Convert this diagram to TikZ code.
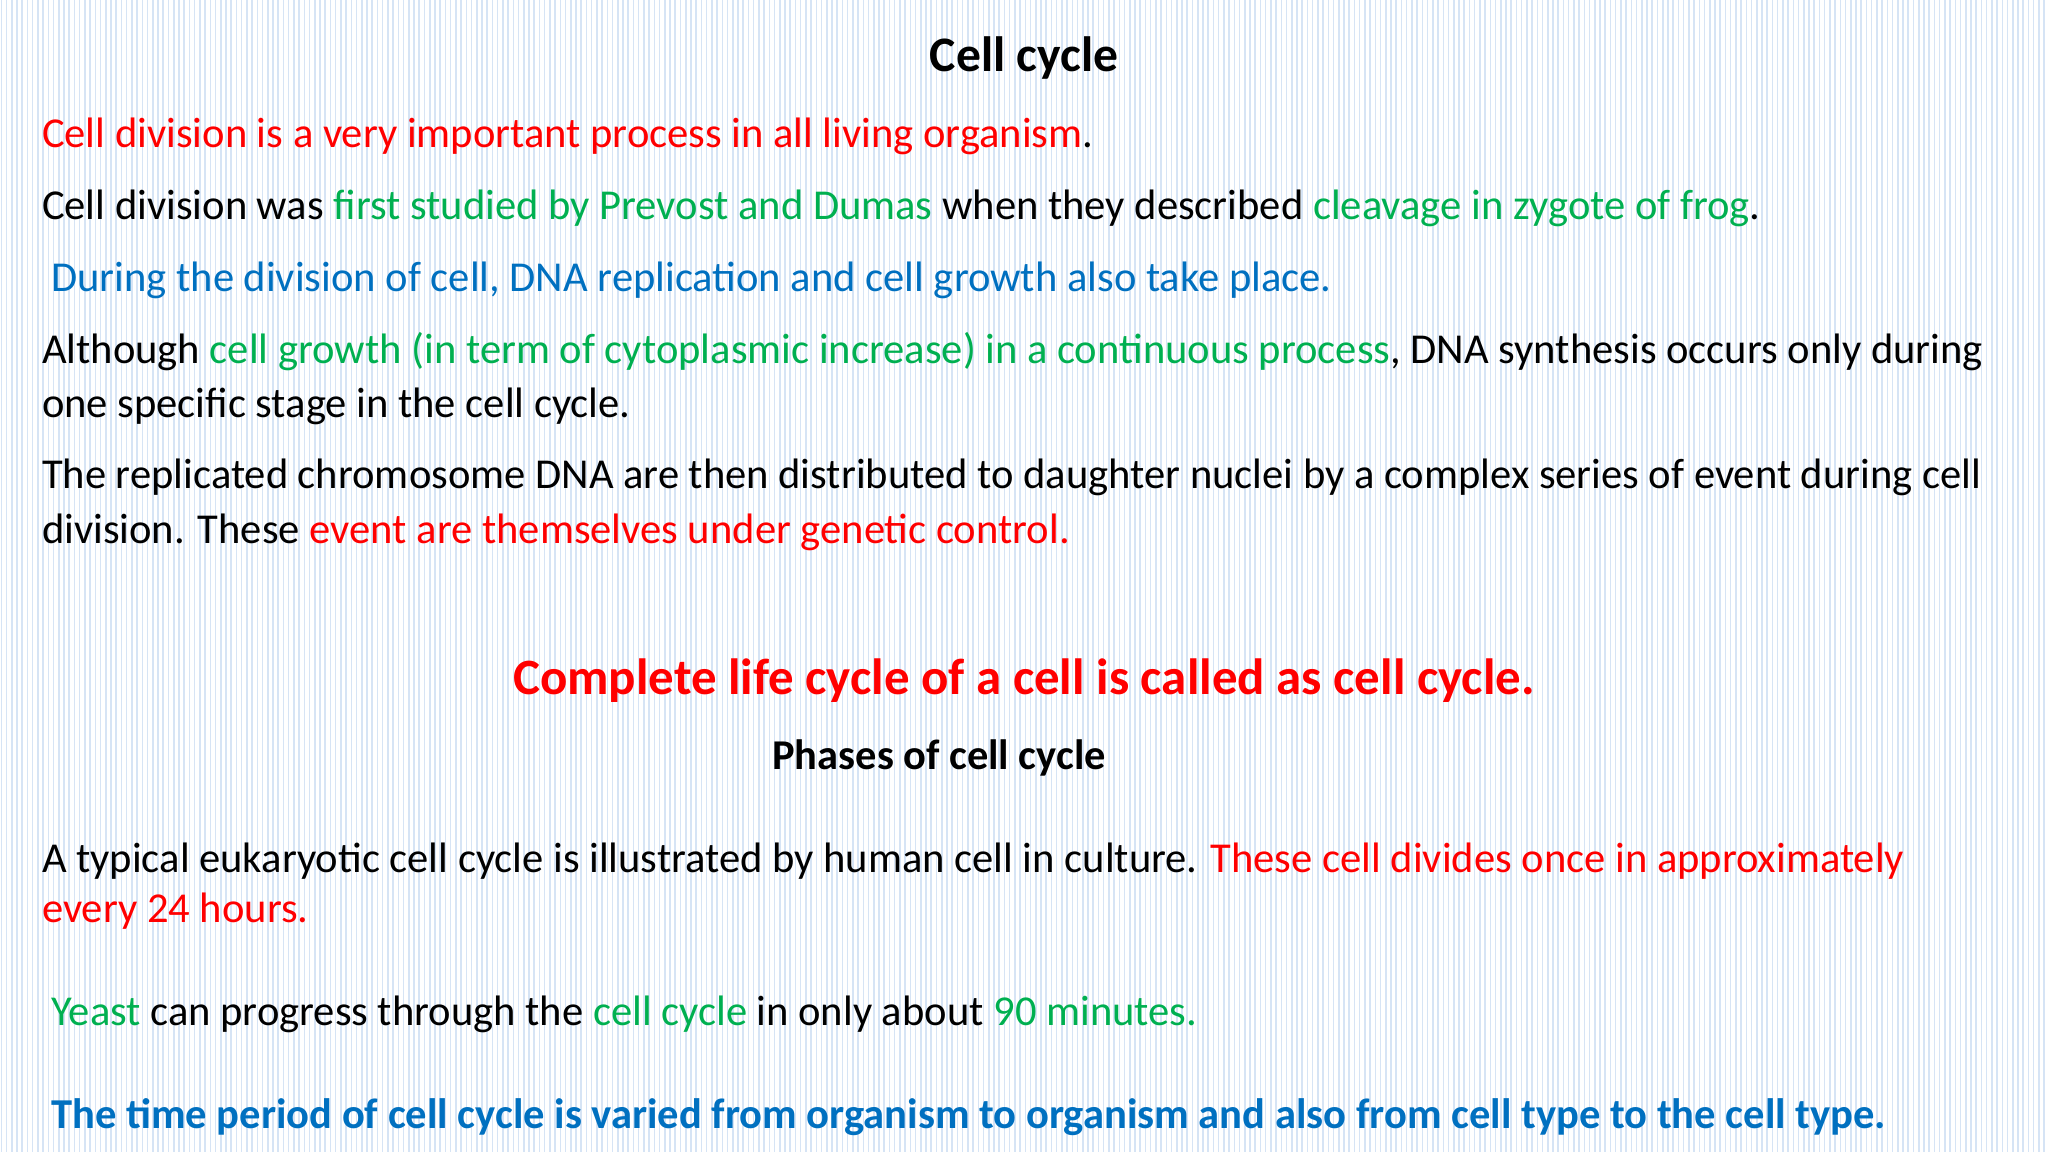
\documentclass[tikz,border=0pt]{standalone}
\usepackage{fontspec}
\setmainfont{Carlito}
\definecolor{rd}{HTML}{FF0000}
\definecolor{gr}{HTML}{00B050}
\definecolor{bl}{HTML}{0070C0}
\definecolor{stripe}{HTML}{D6E4F5}
\begin{document}
\begin{tikzpicture}[x=1pt,y=1pt,
  txt/.style={anchor=base west,inner sep=0pt,font=\fontsize{32.6}{38}\selectfont},
  ctr/.style={anchor=base,inner sep=0pt}]
\useasboundingbox (0,0) rectangle (1568,882);
\fill[white] (0,0) rectangle (1568,882);
\foreach \i in {0,...,391} \draw[stripe,line width=1.2pt] (\i*4+1,0) -- (\i*4+1,882);
\node[ctr,font=\bfseries\fontsize{38}{44}\selectfont] (t) at (784,827) {Cell cycle};
\node[txt] (l1) at (32,769) {{\color{rd}Cell division is a very important process in all living organism}.};
\node[txt] (l2) at (32,714) {Cell division was {\color{gr}first studied by Prevost and Dumas} when they described {\color{gr}cleavage in zygote of frog}.};
\node[txt,text=bl] (l3) at (39,659) {During the division of cell, DNA replication and cell growth also take place.};
\node[txt] (l4) at (32,604) {Although {\color{gr}cell growth (in term of cytoplasmic increase) in a continuous process}, DNA synthesis occurs only during};
\node[txt] (l4b) at (32,562) {one specific stage in the cell cycle.};
\node[txt] (l5) at (32,508) {The replicated chromosome DNA are then distributed to daughter nuclei by a complex series of event during cell};
\node[txt] (l5b) at (32,466) {division. These {\color{rd}event are themselves under genetic control.}};
\node[ctr,text=rd,font=\bfseries\fontsize{39}{45}\selectfont] (c) at (784,350) {Complete life cycle of a cell is called as cell cycle.};
\node[ctr,font=\bfseries\fontsize{32.5}{38}\selectfont] (p) at (719,293) {Phases of cell cycle};
\node[txt] (l6) at (32,214) {A typical eukaryotic cell cycle is illustrated by human cell in culture. {\color{rd}These cell divides once in approximately}};
\node[txt,text=rd] (l6b) at (32,176) {every 24 hours.};
\node[txt] (l7) at (39,97) {{\color{gr}Yeast} can progress through the {\color{gr}cell cycle} in only about {\color{gr}90 minutes.}};
\node[txt,text=bl,font=\bfseries\fontsize{32.6}{38}\selectfont] (l8) at (39,18) {The time period of cell cycle is varied from organism to organism and also from cell type to the cell type.};
\end{tikzpicture}
\end{document}
